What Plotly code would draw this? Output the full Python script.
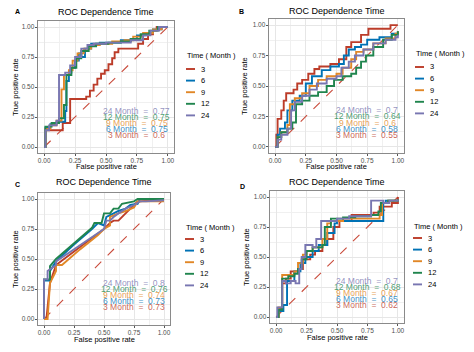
import plotly.graph_objects as go

W, H = 474, 352
months = ["3", "6", "9", "12", "24"]
colors = ["#BC3C29", "#0072B5", "#E18727", "#20854E", "#7876B1"]
text_colors = ["rgba(188,60,41,0.8)", "rgba(0,114,181,0.8)", "rgba(225,135,39,0.8)",
               "rgba(32,133,78,0.8)", "rgba(120,118,177,0.8)"]
tick_vals = [0, 0.25, 0.5, 0.75, 1.0]
tick_text = ["0.00", "0.25", "0.50", "0.75", "1.00"]
panel_letters = ["A", "B", "C", "D"]

# ---- Panel A (step curves) ----
A3_x = [0, 0.01, 0.15, 0.21, 0.34, 0.37, 0.40, 0.43, 0.46, 0.49, 0.52, 0.55, 0.57, 0.60, 0.76, 0.80, 0.84, 0.88, 0.91, 1.0]
A3_y = [0, 0.14, 0.20, 0.40, 0.42, 0.47, 0.52, 0.57, 0.61, 0.64, 0.69, 0.74, 0.79, 0.82, 0.86, 0.90, 0.94, 0.97, 1.0, 1.0]
A6_x = [0, 0.01, 0.05, 0.10, 0.17, 0.18, 0.20, 0.22, 0.25, 0.28, 0.30, 0.33, 0.38, 0.45, 0.55, 0.62, 0.70, 0.75, 0.82, 0.88, 0.95, 1.0]
A6_y = [0, 0.16, 0.19, 0.21, 0.30, 0.55, 0.62, 0.66, 0.72, 0.78, 0.75, 0.82, 0.86, 0.87, 0.87, 0.89, 0.90, 0.93, 0.95, 0.98, 1.0, 1.0]
A9_x = [0, 0.01, 0.05, 0.10, 0.14, 0.16, 0.20, 0.23, 0.27, 0.32, 0.38, 0.45, 0.55, 0.65, 0.72, 0.80, 0.88, 0.95, 1.0]
A9_y = [0, 0.15, 0.18, 0.22, 0.48, 0.60, 0.64, 0.72, 0.78, 0.82, 0.85, 0.86, 0.88, 0.89, 0.92, 0.95, 0.98, 1.0, 1.0]
A12_x = [0, 0.01, 0.06, 0.12, 0.16, 0.18, 0.22, 0.26, 0.30, 0.36, 0.42, 0.52, 0.62, 0.70, 0.78, 0.85, 0.92, 1.0]
A12_y = [0, 0.17, 0.20, 0.24, 0.35, 0.60, 0.66, 0.74, 0.80, 0.84, 0.86, 0.87, 0.88, 0.90, 0.94, 0.97, 1.0, 1.0]
A24_x = [0, 0.01, 0.04, 0.10, 0.12, 0.17, 0.21, 0.25, 0.30, 0.35, 0.40, 0.50, 0.60, 0.70, 0.80, 0.86, 0.93, 1.0]
A24_y = [0, 0.14, 0.18, 0.22, 0.60, 0.62, 0.68, 0.75, 0.82, 0.85, 0.86, 0.87, 0.87, 0.89, 0.93, 0.97, 1.0, 1.0]
A_auc = [0.6, 0.75, 0.75, 0.75, 0.77]

# ---- Panel B (step curves) ----
B3_x = [0, 0.01, 0.02, 0.05, 0.07, 0.09, 0.15, 0.18, 0.22, 0.27, 0.32, 0.36, 0.45, 0.52, 0.58, 0.62, 0.70, 0.76, 0.94, 1.0]
B3_y = [0, 0.10, 0.23, 0.30, 0.38, 0.44, 0.47, 0.52, 0.55, 0.60, 0.64, 0.66, 0.68, 0.72, 0.82, 0.86, 0.92, 0.97, 1.0, 1.0]
B6_x = [0, 0.02, 0.04, 0.08, 0.10, 0.14, 0.20, 0.25, 0.30, 0.38, 0.45, 0.52, 0.56, 0.60, 0.65, 0.70, 0.75, 0.85, 0.95, 1.0]
B6_y = [0, 0.10, 0.15, 0.20, 0.30, 0.38, 0.42, 0.52, 0.58, 0.63, 0.66, 0.68, 0.75, 0.80, 0.82, 0.84, 0.88, 0.90, 0.93, 0.95]
B9_x = [0, 0.02, 0.05, 0.10, 0.12, 0.16, 0.22, 0.28, 0.35, 0.42, 0.50, 0.55, 0.62, 0.66, 0.72, 0.80, 0.90, 0.98, 1.0]
B9_y = [0, 0.08, 0.12, 0.18, 0.35, 0.40, 0.44, 0.50, 0.55, 0.58, 0.60, 0.65, 0.72, 0.78, 0.80, 0.85, 0.89, 0.93, 0.95]
B12_x = [0, 0.02, 0.05, 0.10, 0.14, 0.17, 0.22, 0.28, 0.35, 0.42, 0.48, 0.55, 0.62, 0.66, 0.70, 0.74, 0.80, 0.88, 0.95, 1.0]
B12_y = [0, 0.08, 0.12, 0.15, 0.20, 0.35, 0.38, 0.42, 0.45, 0.50, 0.55, 0.58, 0.60, 0.65, 0.70, 0.75, 0.82, 0.88, 0.92, 0.95]
B24_x = [0, 0.02, 0.05, 0.10, 0.13, 0.16, 0.22, 0.28, 0.34, 0.42, 0.50, 0.54, 0.60, 0.65, 0.72, 0.80, 0.90, 0.98, 1.0]
B24_y = [0, 0.06, 0.10, 0.15, 0.30, 0.37, 0.42, 0.47, 0.52, 0.56, 0.58, 0.65, 0.70, 0.75, 0.80, 0.85, 0.88, 0.90, 0.92]
B_auc = [0.55, 0.58, 0.6, 0.64, 0.7]

# ---- Panel C (linear curves) ----
C3_x = [0, 0.02, 0.03, 0.05, 0.10, 0.30, 0.47, 0.50, 0.55, 0.58, 0.62, 0.65, 0.70, 0.75, 0.78, 0.80, 1.0]
C3_y = [0, 0.0, 0.10, 0.30, 0.45, 0.60, 0.72, 0.75, 0.80, 0.82, 0.82, 0.85, 0.90, 0.95, 0.98, 0.98, 1.0]
C6_x = [0, 0.0, 0.05, 0.05, 0.10, 0.25, 0.40, 0.45, 0.50, 0.52, 0.58, 0.62, 0.68, 0.72, 0.78, 0.80, 1.0]
C6_y = [0, 0.32, 0.32, 0.40, 0.48, 0.62, 0.75, 0.80, 0.78, 0.85, 0.88, 0.90, 0.92, 0.95, 0.96, 1.0, 1.0]
C9_x = [0, 0.03, 0.04, 0.05, 0.10, 0.10, 0.15, 0.30, 0.45, 0.50, 0.55, 0.55, 0.62, 0.68, 0.75, 0.78, 1.0]
C9_y = [0, 0.0, 0.15, 0.30, 0.40, 0.45, 0.45, 0.58, 0.70, 0.75, 0.78, 0.85, 0.88, 0.90, 0.93, 0.98, 0.98]
C12_x = [0, 0.0, 0.05, 0.05, 0.10, 0.25, 0.40, 0.42, 0.48, 0.50, 0.55, 0.58, 0.62, 0.65, 0.75, 0.78, 1.0]
C12_y = [0, 0.33, 0.33, 0.44, 0.50, 0.63, 0.76, 0.80, 0.80, 0.88, 0.88, 0.92, 0.92, 0.96, 0.98, 1.0, 1.0]
C24_x = [0, 0.0, 0.03, 0.03, 0.10, 0.10, 0.50, 0.52, 0.55, 0.58, 0.62, 0.68, 0.75, 0.80, 0.85, 1.0]
C24_y = [0, 0.33, 0.33, 0.40, 0.45, 0.48, 0.75, 0.82, 0.82, 0.85, 0.88, 0.92, 0.95, 0.98, 0.98, 0.99]
C_auc = [0.73, 0.73, 0.74, 0.76, 0.8]

# ---- Panel D (step curves) ----
D3_x = [0, 0.02, 0.05, 0.08, 0.12, 0.18, 0.22, 0.28, 0.32, 0.38, 0.42, 0.47, 0.52, 0.62, 0.75, 0.80, 0.85, 0.95, 1.0]
D3_y = [0, 0.07, 0.28, 0.32, 0.38, 0.40, 0.48, 0.52, 0.55, 0.60, 0.65, 0.75, 0.80, 0.85, 0.85, 0.87, 0.92, 0.95, 1.0]
D6_x = [0, 0.02, 0.06, 0.09, 0.15, 0.20, 0.24, 0.30, 0.35, 0.42, 0.48, 0.50, 0.55, 0.65, 0.80, 0.88, 0.90, 1.0]
D6_y = [0, 0.05, 0.10, 0.30, 0.38, 0.45, 0.50, 0.55, 0.60, 0.70, 0.78, 0.80, 0.80, 0.80, 0.80, 0.95, 0.97, 0.98]
D9_x = [0, 0.02, 0.05, 0.10, 0.15, 0.18, 0.22, 0.25, 0.30, 0.38, 0.42, 0.45, 0.55, 0.65, 0.85, 0.87, 0.92, 1.0]
D9_y = [0, 0.08, 0.35, 0.35, 0.38, 0.45, 0.52, 0.55, 0.58, 0.65, 0.78, 0.80, 0.82, 0.82, 0.85, 0.95, 0.97, 0.98]
D12_x = [0, 0.02, 0.05, 0.10, 0.15, 0.18, 0.21, 0.25, 0.30, 0.38, 0.40, 0.45, 0.55, 0.65, 0.78, 0.84, 0.86, 0.92, 1.0]
D12_y = [0, 0.06, 0.32, 0.34, 0.36, 0.40, 0.48, 0.55, 0.58, 0.60, 0.75, 0.82, 0.83, 0.84, 0.85, 0.88, 0.95, 0.97, 0.98]
D24_x = [0, 0.01, 0.05, 0.08, 0.12, 0.16, 0.19, 0.21, 0.24, 0.30, 0.33, 0.37, 0.50, 0.60, 0.78, 0.80, 0.88, 0.93, 1.0]
D24_y = [0, 0.08, 0.30, 0.28, 0.30, 0.28, 0.40, 0.50, 0.60, 0.58, 0.65, 0.80, 0.82, 0.84, 0.97, 0.97, 0.95, 0.97, 0.98]
D_auc = [0.62, 0.65, 0.67, 0.68, 0.7]

panels = [
    dict(xs=[A3_x, A6_x, A9_x, A12_x, A24_x], ys=[A3_y, A6_y, A9_y, A12_y, A24_y], auc=A_auc, shape="hv"),
    dict(xs=[B3_x, B6_x, B9_x, B12_x, B24_x], ys=[B3_y, B6_y, B9_y, B12_y, B24_y], auc=B_auc, shape="hv"),
    dict(xs=[C3_x, C6_x, C9_x, C12_x, C24_x], ys=[C3_y, C6_y, C9_y, C12_y, C24_y], auc=C_auc, shape="linear"),
    dict(xs=[D3_x, D6_x, D9_x, D12_x, D24_x], ys=[D3_y, D6_y, D9_y, D12_y, D24_y], auc=D_auc, shape="hv"),
]

# layout geometry in pixels: (left, right, top, bottom) of each plot box
boxes = [(38, 174, 21, 153), (269, 404, 19, 153), (38, 170, 193, 325), (270, 404, 191, 323)]
# legend geometry: (key_x0, title_y, first_item_y)
legend_geo = [(186, 55, 69), (415, 53, 67), (185, 227, 239), (413, 226, 238)]
title_y = [12, 11, 182, 182]
letter_pos = [(17, 12), (241, 12), (17, 185), (242, 186)]
xtitle_y = [167, 166, 339, 337]
ytitle_x = [15, 244, 15, 246]

def px(x):
    return x / W

def py(y):
    return 1 - y / H

fig = go.Figure()
annotations = []
shapes = []
font_family = "Liberation Sans, Arial, sans-serif"
auc_y = [0.10, 0.15, 0.20, 0.25, 0.30]

for i, p in enumerate(panels):
    n = "" if i == 0 else str(i + 1)
    xa, ya = "x" + n, "y" + n
    l, r, t, b = boxes[i]
    # diagonal reference
    fig.add_trace(go.Scatter(x=[0, 1], y=[0, 1], mode="lines", xaxis=xa, yaxis=ya,
                             line=dict(color="#C94A3A", width=1.1, dash="dash"),
                             showlegend=False, hoverinfo="skip"))
    for k in range(5):
        fig.add_trace(go.Scatter(x=p["xs"][k], y=p["ys"][k], mode="lines", xaxis=xa, yaxis=ya,
                                 line=dict(color=colors[k], width=1.9, shape=p["shape"]),
                                 name=months[k], showlegend=False))
    axis_common = dict(range=[-0.05, 1.05], tickvals=tick_vals, ticktext=tick_text,
                       showgrid=True, gridcolor="#E6E6E6", gridwidth=0.8,
                       minor=dict(tickvals=[0.125, 0.375, 0.625, 0.875], showgrid=True,
                                  gridcolor="#F0F0F0", gridwidth=0.5, ticks=""),
                       zeroline=False, showline=True, mirror=True, linecolor="#8A8A8A",
                       linewidth=0.8, ticks="outside", ticklen=2.5, tickcolor="#555555",
                       ticklabelstandoff=-1,
                       tickfont=dict(size=6.5, color="#4D4D4D", family=font_family))
    fig.layout["xaxis" + n] = dict(axis_common, domain=[px(l), px(r)], anchor=ya)
    fig.layout["yaxis" + n] = dict(axis_common, domain=[py(b), py(t)], anchor=xa)
    # axis titles
    annotations.append(dict(x=px((l + r) / 2), y=py(xtitle_y[i]), xref="paper", yref="paper",
                            showarrow=False, xanchor="center", yanchor="middle",
                            text="False positive rate",
                            font=dict(size=7.5, color="#000", family=font_family)))
    annotations.append(dict(x=px(ytitle_x[i]), y=py((t + b) / 2), xref="paper", yref="paper",
                            showarrow=False, xanchor="center", yanchor="middle", textangle=-90,
                            text="True positive rate",
                            font=dict(size=7.5, color="#000", family=font_family)))
    # AUC labels
    for k in range(5):
        annotations.append(dict(x=0.75, y=auc_y[k], xref=xa, yref=ya, showarrow=False,
                                xanchor="center", yanchor="middle",
                                text=f"{months[k]} Month \u00a0=\u00a0 {p['auc'][k]:g}",
                                font=dict(size=8.5, color=text_colors[k], family=font_family)))
    # title
    annotations.append(dict(x=px((l + r) / 2), y=py(title_y[i]), xref="paper", yref="paper",
                            showarrow=False, text="ROC Dependence Time", xanchor="center",
                            yanchor="middle",
                            font=dict(size=9, color="#000", family=font_family)))
    # panel letter
    lx, ly = letter_pos[i]
    annotations.append(dict(x=px(lx), y=py(ly), xref="paper", yref="paper", showarrow=False,
                            text="<b>" + panel_letters[i] + "</b>", xanchor="center",
                            yanchor="middle",
                            font=dict(size=7, color="#000", family=font_family)))
    # legend
    kx, ty, iy = legend_geo[i]
    annotations.append(dict(x=px(kx - 1), y=py(ty), xref="paper", yref="paper", showarrow=False,
                            xanchor="left", yanchor="middle", text="Time ( Month )",
                            font=dict(size=7.5, color="#000", family=font_family)))
    for k in range(5):
        yy = iy + k * 11.6
        shapes.append(dict(type="line", xref="paper", yref="paper", x0=px(kx), x1=px(kx + 9),
                           y0=py(yy), y1=py(yy), line=dict(color=colors[k], width=1.9)))
        annotations.append(dict(x=px(kx + 13), y=py(yy), xref="paper", yref="paper",
                                showarrow=False, xanchor="left", yanchor="middle", text=months[k],
                                font=dict(size=7.5, color="#000", family=font_family)))

fig.update_layout(width=W, height=H, margin=dict(l=0, r=0, t=0, b=0),
                  paper_bgcolor="white", plot_bgcolor="white",
                  annotations=annotations, shapes=shapes, showlegend=False,
                  font=dict(family=font_family))
fig.write_html("out.html")
